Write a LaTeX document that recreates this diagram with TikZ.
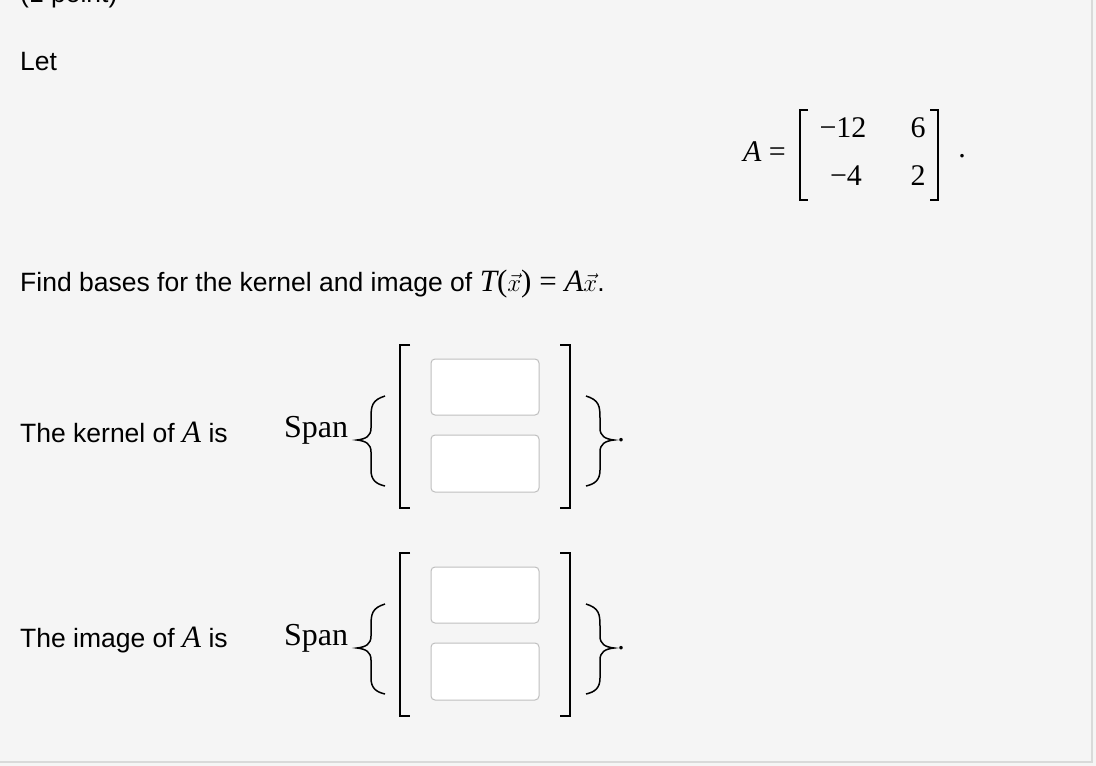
\documentclass[tikz,border=0pt]{standalone}
\usepackage{fontspec}
\setmainfont{Liberation Sans}
\newfontfamily\serif{Liberation Serif}
\newcommand{\mi}[1]{{\serif\itshape #1}}
\begin{document}
\begin{tikzpicture}[x=1pt,y=-1pt,
  txt/.style={anchor=west,inner sep=0pt,font=\fontsize{26.5}{30}\selectfont},
  srf/.style={inner sep=0pt,font=\fontsize{30}{32}\selectfont\serif},
  brk/.style={line width=1.6pt},
  brc/.style={line width=1.5pt},
  ibox/.style={draw=black!25,line width=1pt,rounded corners=4pt,fill=white}]
\useasboundingbox (0,0) rectangle (1096,766);
\fill[black!4] (0,0) rectangle (1096,766);
\draw[black!15,line width=1.5pt] (0,762) -- (1092,762) -- (1092,0);
\begin{scope}
\clip (0,0) rectangle (1096,766);
\node[txt] (pt) at (20,-4) {(1 point)};
\end{scope}
\node[txt] (let) at (20,62) {Let};
% matrix
\node[srf,anchor=east] (A) at (786,152) {\mi{A} =};
\draw[brk] (808,110) -- (800,110) -- (800,200) -- (808,200);
\draw[brk] (930,110) -- (938,110) -- (938,200) -- (930,200);
\node[srf] (m11) at (843,128) {−12};
\node[srf] (m12) at (918,128) {6};
\node[srf] (m21) at (846,176) {−4};
\node[srf] (m22) at (918,176) {2};
\node[srf] (dot0) at (962,156) {.};
\node[txt] (find) at (20,284) {Find bases for the kernel and image of {\fontsize{31}{32}\selectfont\mi{T}\serif(\mi{$\vec{x}$}) = \mi{A}\mi{$\vec{x}$}}.};
% rows
\foreach \n/\yy/\lab in {k/0/kernel,i/208/image}{
  \begin{scope}[yshift=-\yy]
  \node[txt] (\n t) at (20,432) {The \lab{} of {\fontsize{31}{32}\selectfont\mi{A}} is};
  \node[srf,anchor=west,font=\fontsize{32}{34}\selectfont\serif] (\n s) at (284,430) {Span};
  \draw[brc] (385,396) .. controls (372,400) and (371,406) .. (371,418) -- (371,428) .. controls (371,436) and (366,439) .. (357,440) .. controls (366,441) and (371,444) .. (371,452) -- (371,470) .. controls (371,480) and (376,484) .. (385,486);
  \draw[brk] (410,345) -- (400,345) -- (400,508) -- (410,508);
  \draw[ibox] (431,359) rectangle (539,415);
  \draw[ibox] (431,435) rectangle (539,492);
  \draw[brk] (560,345) -- (570,345) -- (570,508) -- (560,508);
  \draw[brc] (586,396) .. controls (599,400) and (600,406) .. (600,418) -- (600,428) .. controls (600,436) and (605,439) .. (614,440) .. controls (605,441) and (600,444) .. (600,452) -- (600,470) .. controls (600,480) and (595,484) .. (586,486);
  \node[srf] (\n d) at (621,440) {.};
  \end{scope}}
\end{tikzpicture}
\end{document}
